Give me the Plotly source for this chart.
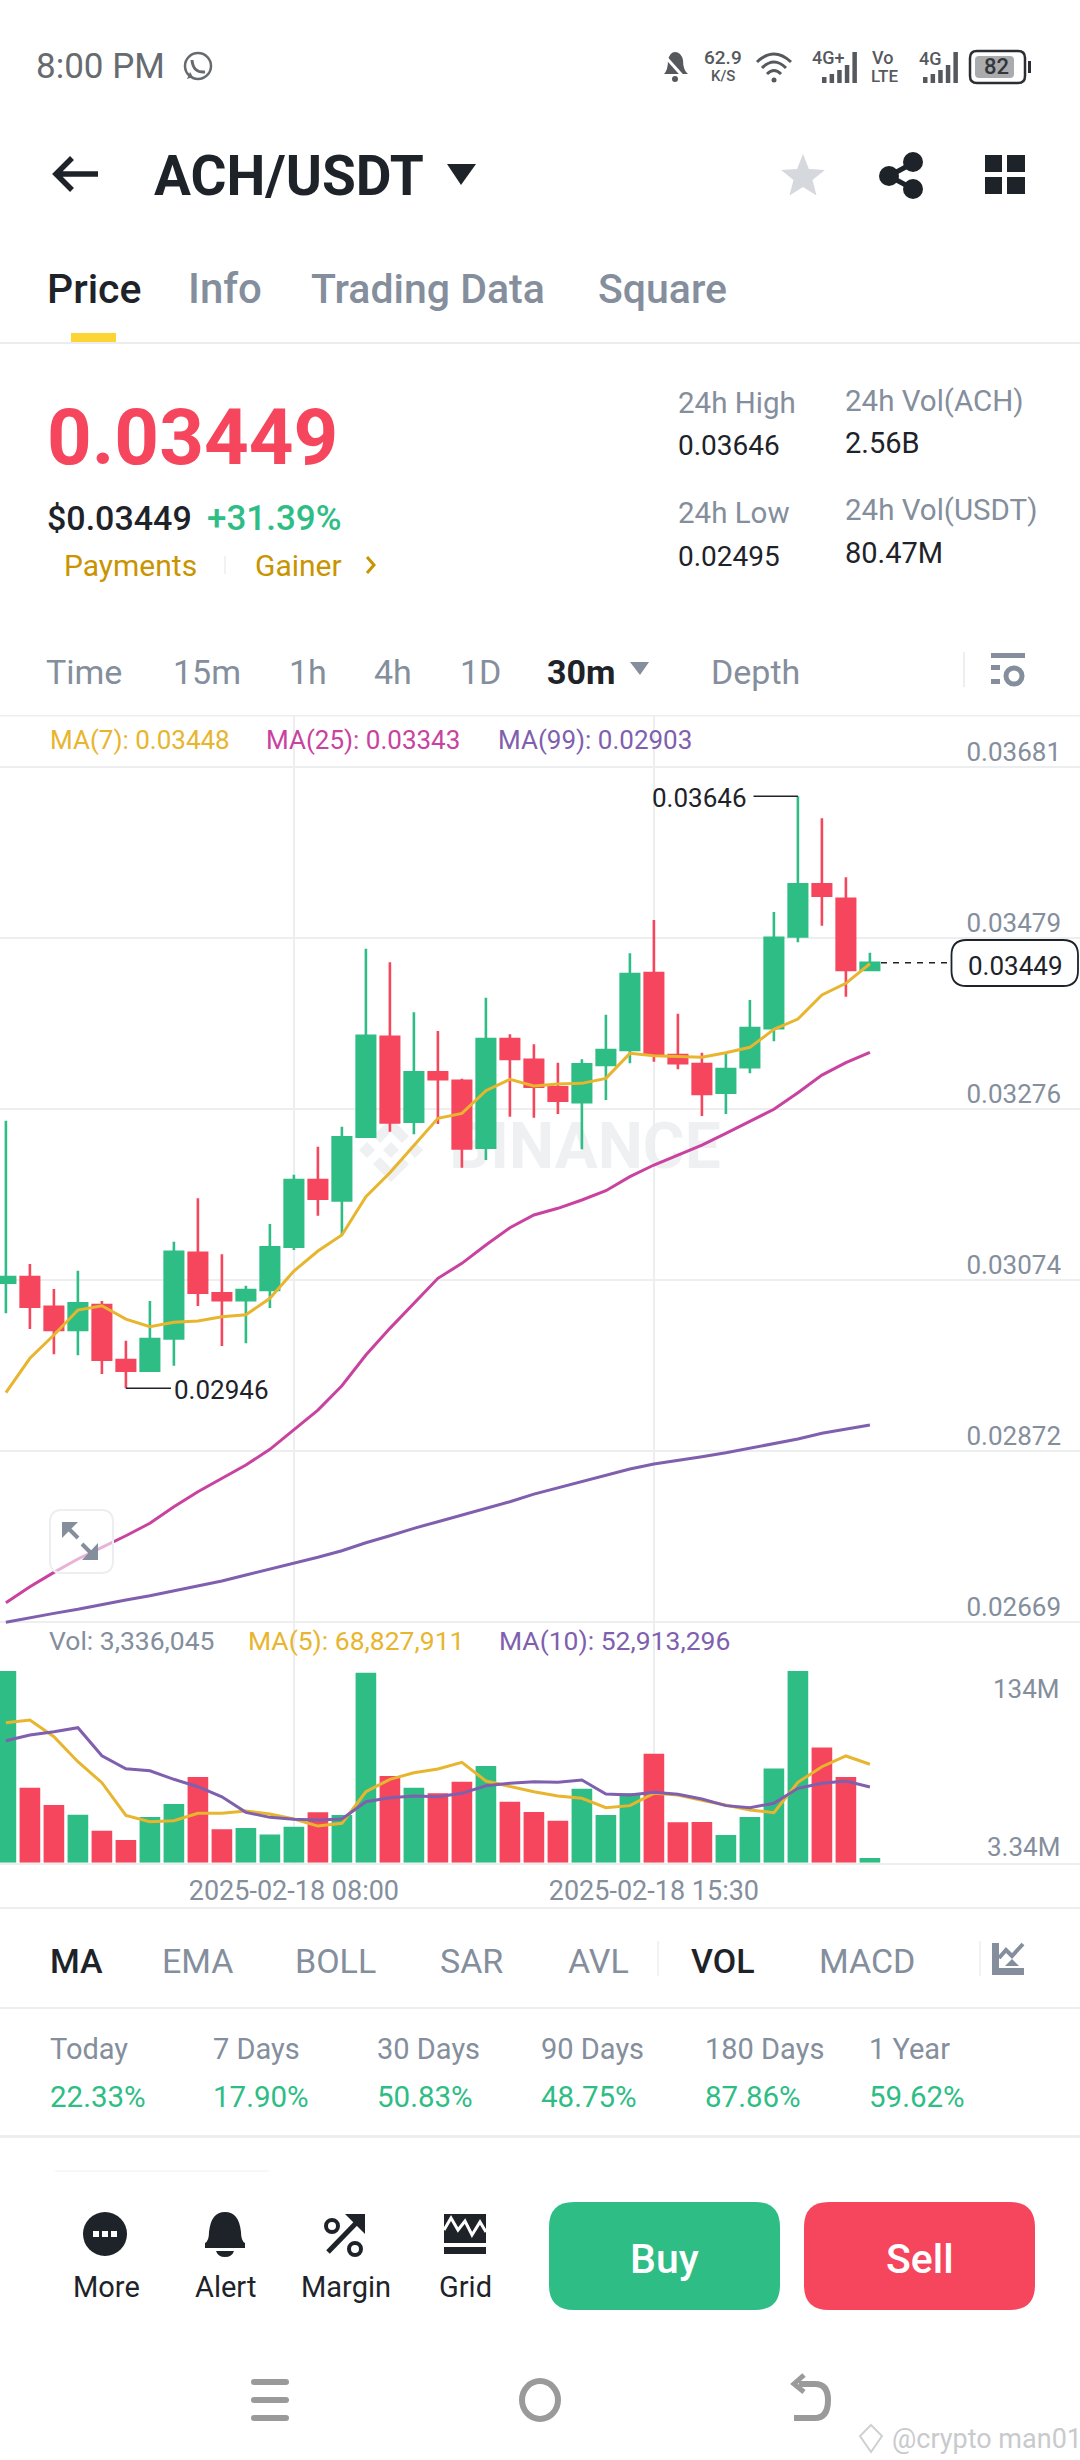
import math, re
import plotly.graph_objects as go

W, H = 1080, 2460

# ---------- chart data ----------
candle_index = list(range(37))
open_px = [0.030707,0.030774,0.030423,0.030147,0.030443,0.029792,0.029666,0.030049,0.031062,0.030581,0.030499,0.030620,0.031133,0.031922,0.031681,0.032434,0.033616,0.032611,0.033195,0.033096,0.032304,0.033589,0.033344,0.033018,0.032841,0.033282,0.033459,0.034370,0.033400,0.033294,0.032954,0.033255,0.033716,0.034804,0.035419,0.035249,0.034405]
close_px = [0.030774,0.030423,0.030147,0.030463,0.029796,0.029666,0.030041,0.031073,0.030588,0.030499,0.030620,0.031125,0.031922,0.031700,0.032427,0.033628,0.032604,0.033195,0.033113,0.032296,0.033589,0.033353,0.033025,0.032860,0.033290,0.033459,0.034358,0.033408,0.033302,0.032939,0.033234,0.033719,0.034787,0.035419,0.035284,0.034405,0.03449]
high_px = [0.032623,0.030928,0.030632,0.030849,0.030490,0.030021,0.030490,0.031192,0.031705,0.031043,0.030671,0.031401,0.031984,0.032315,0.032552,0.034657,0.034496,0.033905,0.033684,0.033120,0.034078,0.033645,0.033527,0.033309,0.033349,0.033877,0.034603,0.034997,0.033889,0.033427,0.033427,0.034051,0.035091,0.03646,0.036200,0.035502,0.034610]
low_px = [0.030345,0.030159,0.029860,0.029848,0.029627,0.02946,0.029662,0.029725,0.030431,0.029958,0.029990,0.030408,0.031094,0.031499,0.031279,0.032427,0.032493,0.032462,0.032584,0.032067,0.032158,0.032670,0.032658,0.032702,0.032285,0.032868,0.033302,0.033321,0.033231,0.032678,0.032702,0.033184,0.033562,0.034733,0.034929,0.034090,0.034405]
ma7 = [0.029406,0.029813,0.030088,0.030384,0.030435,0.030277,0.030186,0.030238,0.030254,0.030305,0.030328,0.030522,0.030845,0.031082,0.031271,0.031724,0.032008,0.032335,0.032651,0.03271,0.032978,0.033113,0.033033,0.033057,0.033065,0.033124,0.03342,0.033392,0.033385,0.033373,0.033427,0.033491,0.033704,0.033826,0.03411,0.034248,0.03448]
ma25 = [0.026922,0.027111,0.027281,0.027439,0.027577,0.027714,0.027861,0.028057,0.028235,0.028393,0.028551,0.028736,0.028965,0.029201,0.029489,0.029852,0.030167,0.030463,0.030759,0.030936,0.031153,0.031357,0.031508,0.031587,0.031685,0.031795,0.031961,0.032099,0.032217,0.032335,0.032474,0.032611,0.032758,0.032954,0.033163,0.033309,0.03343]
ma99 = [0.02669,0.026745,0.026796,0.026844,0.026903,0.026954,0.027005,0.027064,0.027123,0.027178,0.02725,0.027317,0.027388,0.027459,0.027537,0.027631,0.027714,0.027802,0.02788,0.027959,0.028038,0.028116,0.028207,0.028282,0.028353,0.028432,0.028503,0.028562,0.02861,0.028649,0.028696,0.028748,0.028799,0.028858,0.028926,0.028973,0.029024]
volume = [134,52.4,40.3,33.6,22.4,15.8,31.9,41,59.9,23.3,24.2,19.8,25.2,35.2,33.3,132.8,60.6,52.4,48.5,56.6,67.6,42.6,35.4,29.4,51.7,33.3,48.5,76.2,28.2,28.4,19.3,31.9,65.9,134,80.6,59.9,3.34]
vol_ma5 = [97.9,99.7,88.1,70.6,55.9,33.1,28.7,29.4,34.5,34.5,36.1,34,30.5,25.6,27.5,49.6,58.3,62.9,65.5,70.1,57.1,53.1,49.6,46.6,45,38.5,39.9,48.5,47.3,43.6,40.3,36.8,35,56.2,67.1,74.6,68.83]
vol_ma10 = [85.3,89.3,91.6,94.4,74.8,65.7,64.3,58.3,53.1,46.1,35.2,31.7,30.3,29.8,30.5,42.6,45.4,46.6,46.1,48.5,53.8,55.5,56.6,56.2,57.8,48,47.3,49.2,47.8,44.5,39.9,38.5,41.5,52,55.5,57.1,52.91]
price_ticks = [0.03681,0.03479,0.03276,0.03074,0.02872,0.02669]
date_tick_index = [12,27]
date_tick_labels = ["2025-02-18 08:00","2025-02-18 15:30"]
high_label_index, high_label_value = 33, 0.03646
low_label_index, low_label_value = 5, 0.02946
last_price = 0.03449

period_names = ["Today","7 Days","30 Days","90 Days","180 Days","1 Year"]
period_changes = ["22.33%","17.90%","50.83%","48.75%","87.86%","59.62%"]

# ---------- palette ----------
GREEN, RED = "#2ebd85", "#f6465d"
YEL, PINK, PUR = "#e8b52e", "#c9429f", "#7f5fae"
GRAY, DARK, GRID = "#848e9c", "#1e2329", "#eceef0"
GOLD = "#c99400"
FONT = "Roboto"

ann, shp = [], []
px = lambda x: x / W
py = lambda y: 1 - y / H


def T(x, y, s, size, color=GRAY, anchor="left", weight=400, font=FONT):
    ann.append(dict(x=px(x), y=py(y), xref="paper", yref="paper", text=s, showarrow=False,
                    xanchor=anchor, yanchor="middle", borderpad=0, borderwidth=0,
                    font=dict(size=size, color=color, family=font, weight=weight)))


def R(x0, y0, x1, y1, fill, line=None, lw=0):
    shp.append(dict(type="rect", xref="paper", yref="paper", x0=px(x0), x1=px(x1), y0=py(y0), y1=py(y1),
                    fillcolor=fill, line=dict(color=line or fill, width=lw)))


def C(cx, cy, rx, ry=None, fill=None, line=None, lw=0):
    ry = ry or rx
    shp.append(dict(type="circle", xref="paper", yref="paper", x0=px(cx - rx), x1=px(cx + rx), y0=py(cy - ry), y1=py(cy + ry),
                    fillcolor=fill or "rgba(0,0,0,0)", line=dict(color=line or "rgba(0,0,0,0)", width=lw)))


def P(d, fill=None, line=None, lw=0, layer="above"):
    toks = re.findall(r"[MLQCZ]|-?\d+\.?\d*", d)
    out, isx = [], True
    for t in toks:
        if t in "MLQCZ":
            out.append(t)
        else:
            out.append(str(px(float(t)) if isx else py(float(t))))
            isx = not isx
    shp.append(dict(type="path", xref="paper", yref="paper", path=" ".join(out), layer=layer,
                    fillcolor=fill or "rgba(0,0,0,0)", line=dict(color=line or "rgba(0,0,0,0)", width=lw)))


def RR(x0, y0, x1, y1, r, fill=None, line=None, lw=0):
    P(f"M {x0+r} {y0} L {x1-r} {y0} Q {x1} {y0} {x1} {y0+r} L {x1} {y1-r} Q {x1} {y1} {x1-r} {y1} "
      f"L {x0+r} {y1} Q {x0} {y1} {x0} {y1-r} L {x0} {y0+r} Q {x0} {y0} {x0+r} {y0} Z", fill, line, lw)


# ---------- status bar ----------
T(36, 67, "8:00 PM", 35, "#666b70")
C(198, 66, 13, line="#666b70", lw=2.5)
P("M 187 79 L 190 72 L 193 77 Z", fill="#666b70")
P("M 192 60 Q 193 73 205 72", line="#666b70", lw=3)
P("M 664 74 Q 668 70 668 60 Q 670 52 675 52 Q 681 52 683 60 Q 683 70 688 74 Z", fill="#55595e")
C(675, 79, 3, fill="#55595e")
P("M 662 53 L 688 82", line="#ffffff", lw=3)
T(723, 57, "62.9", 19, "#55595e", "center", 500)
T(723, 76, "K/S", 15, "#55595e", "center", 500)
P("M 757 62 Q 774 46 791 62", line="#55595e", lw=3)
P("M 762 68 Q 774 56 786 68", line="#55595e", lw=3)
P("M 767 74 Q 774 67 781 74", line="#55595e", lw=3)
C(774, 80, 2.5, fill="#55595e")
T(828, 58, "4G+", 18, "#55595e", "center", 500)
for x0, bars in ((822, [6, 9, 13, 18, 31]), (923, [6, 9, 13, 18, 31])):
    for k, b in enumerate(bars):
        R(x0 + k * 7.6, 83 - b, x0 + k * 7.6 + 4.5, 83, "#55595e")
T(883, 58, "Vo", 18, "#55595e", "center", 500)
T(884, 76, "LTE", 17, "#55595e", "center", 500)
T(930, 59, "4G", 18, "#55595e", "center", 500)
RR(970, 51, 1025, 83, 7, fill="#ffffff", line="#2b2f33", lw=2.5)
RR(975, 56, 1014, 78, 4, fill="#a9abad")
R(1028, 61, 1031, 73, "#2b2f33")
T(996, 67, "82", 22, "#33373b", "center", 500)

# ---------- title bar ----------
P("M 98 174 L 58 174 M 72 158 L 56 174 L 72 190", line=DARK, lw=5.5)
T(154, 176, "ACH/USDT", 55, DARK, weight=700)
P("M 447 164 L 476 164 L 461 185 Z", fill=DARK)
star = []
for k in range(10):
    rad = 23 if k % 2 == 0 else 10
    a = -math.pi / 2 + k * math.pi / 5
    star.append(("M" if k == 0 else "L") + f" {803 + rad*math.cos(a):.1f} {177 + rad*math.sin(a):.1f}")
P(" ".join(star) + " Z", fill="#d5d8dc")
P("M 915 162 L 889 176 L 915 190", line=DARK, lw=5)
C(889, 176, 10, fill=DARK); C(913, 162, 10, fill=DARK); C(913, 189, 10, fill=DARK)
R(985, 155, 1002, 172, DARK); R(1007, 155, 1025, 172, DARK)
R(985, 177, 1002, 194, DARK); R(1007, 177, 1025, 194, DARK)

# ---------- tabs ----------
T(47, 289, "Price", 41, DARK, weight=500)
T(188, 289, "Info", 42, GRAY, weight=500)
T(311, 289, "Trading Data", 41, GRAY, weight=500)
T(598, 289, "Square", 41, GRAY, weight=500)
R(71, 333, 116, 342, "#fcd535")
R(0, 342, W, 344, "#eaecef")

# ---------- headline numbers ----------
T(47, 438, "0.03449", 78, RED, weight=700)
T(47, 518, "$0.03449", 34, DARK, weight=500)
T(207, 518, "+31.39%", 35, GREEN, weight=500)
T(64, 565, "Payments", 30, GOLD)
T(255, 565, "Gainer", 30, GOLD)
R(224, 556, 226, 574, "#f1f2f3")
P("M 367 557 L 374 565 L 367 573", line=GOLD, lw=3)
T(678, 403, "24h High", 29.5)
T(678, 446, "0.03646", 28, DARK)
T(845, 401, "24h Vol(ACH)", 29.5)
T(845, 443, "2.56B", 29, DARK)
T(678, 513, "24h Low", 29.5)
T(678, 556, "0.02495", 28, DARK)
T(845, 510, "24h Vol(USDT)", 29.5)
T(845, 553, "80.47M", 29, DARK)

# ---------- interval row ----------
for x, s in ((46, "Time"), (173, "15m"), (289, "1h"), (374, "4h"), (460, "1D"), (711, "Depth")):
    T(x, 672, s, 34)
T(547, 672, "30m", 34, DARK, weight=700)
P("M 630 662 L 649 662 L 640 675 Z", fill=GRAY)
R(963, 652, 965, 687, "#eceef0")
R(991, 653, 1025, 658, GRAY); R(991, 665, 1000, 670, GRAY); R(991, 679, 1000, 684, GRAY)
C(1014, 676, 8, fill="#ffffff", line=GRAY, lw=5)
R(0, 715, W, 716.5, GRID)

# chart legends
T(50, 740, "MA(7): 0.03448", 26, YEL)
T(266, 740, "MA(25): 0.03343", 26, PINK)
T(498, 740, "MA(99): 0.02903", 26, PUR)
T(49, 1640, "Vol: 3,336,045", 26.5, GRAY)
T(248, 1640, "MA(5): 68,827,911", 26.5, YEL)
T(499, 1640, "MA(10): 52,913,296", 26.5, PUR)

# ---------- traces ----------
fig = go.Figure()
fig.add_trace(go.Candlestick(x=candle_index, open=open_px, high=high_px, low=low_px, close=close_px,
                             xaxis="x", yaxis="y", whiskerwidth=0, hoverinfo="skip",
                             increasing=dict(line=dict(color=GREEN, width=2.6), fillcolor=GREEN),
                             decreasing=dict(line=dict(color=RED, width=2.6), fillcolor=RED)))
for vals, col in ((ma7, YEL), (ma25, PINK), (ma99, PUR)):
    fig.add_trace(go.Scatter(x=candle_index, y=vals, mode="lines", xaxis="x", yaxis="y",
                             line=dict(color=col, width=3), hoverinfo="skip"))
vol_colors = [GREEN if c >= o else RED for o, c in zip(open_px, close_px)]
fig.add_trace(go.Bar(x=candle_index, y=[v * 1e6 for v in volume], marker=dict(color=vol_colors, line=dict(width=0)),
                     xaxis="x2", yaxis="y2", hoverinfo="skip"))
for vals, col in ((vol_ma5, YEL), (vol_ma10, PUR)):
    fig.add_trace(go.Scatter(x=candle_index, y=[v * 1e6 for v in vals], mode="lines", xaxis="x2", yaxis="y2",
                             line=dict(color=col, width=3), hoverinfo="skip"))

# price annotations tied to the axes
x_at = lambda p: (p - 5.9) / 24
shp.append(dict(type="line", xref="x", yref="y", x0=high_label_index, x1=x_at(753.5), y0=high_label_value, y1=high_label_value, line=dict(color=DARK, width=1.5)))
shp.append(dict(type="line", xref="x", yref="y", x0=low_label_index, x1=x_at(171), y0=low_label_value, y1=low_label_value, line=dict(color=DARK, width=1.5)))
ann.append(dict(x=x_at(749), y=high_label_value, xref="x", yref="y", text=f"{high_label_value:.5f}", showarrow=False, xanchor="right", yanchor="middle", yshift=-2, font=dict(size=26, color=DARK, family=FONT)))
ann.append(dict(x=x_at(172), y=low_label_value, xref="x", yref="y", text=f"{low_label_value:.5f}", showarrow=False, xanchor="left", yanchor="middle", yshift=-2, font=dict(size=26, color=DARK, family=FONT)))
shp.append(dict(type="line", xref="x", yref="y", x0=x_at(881), x1=x_at(948), y0=last_price, y1=last_price, line=dict(color=DARK, width=1.5, dash="6px,6px")))
RR(951.5, 940, 1078, 986, 15, fill="#ffffff", line=DARK, lw=1.8)
ann.append(dict(x=x_at(1015), y=last_price, xref="x", yref="y", text=f"{last_price:.5f}", showarrow=False, xanchor="center", yanchor="middle", yshift=-3, font=dict(size=26, color=DARK, family=FONT)))
ann.append(dict(x=1, y=134e6, xref="paper", yref="y2", text="134M", showarrow=False, xanchor="right", xshift=-18, yanchor="middle", yshift=-18, font=dict(size=26, color=GRAY, family=FONT)))
ann.append(dict(x=1, y=3.34e6, xref="paper", yref="y2", text="3.34M", showarrow=False, xanchor="right", xshift=-18, yanchor="middle", yshift=11, font=dict(size=26, color=GRAY, family=FONT)))

# watermark below the candles
WM = "#eff0f2"
shp.append(dict(type="rect", xref="paper", yref="paper", layer="below", x0=px(435), x1=px(735), y0=py(1106), y1=py(1176),
                fillcolor="rgba(0,0,0,0)", line=dict(width=0),
                label=dict(text="BINANCE", textposition="middle center", font=dict(size=64, color=WM, family=FONT, weight=700))))
lx, ly = 391, 1150
for dx in (-24, 0, 24):
    P(f"M {lx+dx} {ly-8} L {lx+dx+8} {ly} L {lx+dx} {ly+8} L {lx+dx-8} {ly} Z", fill=WM, layer="below")
P(f"M {lx} {ly-32} L {lx+18} {ly-14} L {lx+11} {ly-7} L {lx} {ly-18} L {lx-11} {ly-7} L {lx-18} {ly-14} Z", fill=WM, layer="below")
P(f"M {lx} {ly+32} L {lx+18} {ly+14} L {lx+11} {ly+7} L {lx} {ly+18} L {lx-11} {ly+7} L {lx-18} {ly+14} Z", fill=WM, layer="below")

# expand button
RR(50, 1510, 113, 1573, 12, fill="rgba(255,255,255,0.6)", line="#eceef0", lw=2)
P("M 62 1522 L 78 1522 L 62 1538 Z", fill=GRAY)
P("M 98 1560 L 82 1560 L 98 1543 Z", fill=GRAY)
P("M 68 1528 L 78 1538 M 82 1544 L 92 1554", line=GRAY, lw=4)

# ---------- indicators ----------
R(0, 1907, W, 1909, "#eceef0")
T(50, 1961, "MA", 34, DARK, weight=500)
for x, s in ((162, "EMA"), (295, "BOLL"), (440, "SAR"), (568, "AVL"), (819, "MACD")):
    T(x, 1961, s, 34)
T(691, 1961, "VOL", 34, DARK, weight=500)
R(657, 1941, 659, 1976, "#f1f2f3")
R(979, 1941, 981, 1976, "#f1f2f3")
P("M 992 1943 L 999 1943 L 999 1968 L 1024 1968 L 1024 1975 L 992 1975 Z", fill=GRAY)
P("M 999 1958 L 1006 1950 L 1012 1956 L 1023 1944", line=GRAY, lw=4)
P("M 1005 1966 L 1012 1959 L 1019 1966 Z", fill=GRAY)
R(0, 2007, W, 2009, "#eceef0")
for x, name, chg in zip((50, 213, 377, 541, 705, 869), period_names, period_changes):
    T(x, 2049, name, 29, GRAY)
    T(x, 2097, chg, 29.5, GREEN)
R(0, 2135, W, 2138, "#eceef0")
R(55, 2170, 269, 2172, "#f7f7f8")

# ---------- bottom actions ----------
C(105, 2234, 22, fill=DARK)
for dx in (-9, 0, 9):
    R(105 + dx - 3, 2231, 105 + dx + 3, 2237, "#ffffff")
P("M 205 2248 L 205 2243 Q 209 2241 209 2232 Q 211 2212 225 2212 Q 239 2212 241 2232 Q 241 2241 245 2243 L 245 2248 Z", fill=DARK)
P("M 216 2251 L 234 2251 Q 232 2257 225 2257 Q 218 2257 216 2251 Z", fill=DARK)
P("M 328 2252 L 361 2218", line=DARK, lw=5)
P("M 345 2214 L 365 2214 L 365 2234 Z", fill=DARK)
C(332, 2226, 6, fill="#ffffff", line=DARK, lw=4)
C(355, 2249, 6, fill="#ffffff", line=DARK, lw=4)
P("M 444 2214 L 486 2214 L 486 2243 L 444 2243 Z", fill=DARK)
P("M 444 2230 L 451 2218 L 458 2230 L 465 2221 L 472 2235 L 480 2222 L 486 2232", line="#ffffff", lw=3)
R(444, 2247, 486, 2254, DARK)
for x, s in ((106, "More"), (225, "Alert"), (346, "Margin"), (465, "Grid")):
    T(x, 2287, s, 29, DARK, "center")
RR(549, 2202, 780, 2310, 25, fill=GREEN)
RR(804, 2202, 1035, 2310, 25, fill=RED)
T(664, 2259, "Buy", 41, "#ffffff", "center", 500)
T(920, 2259, "Sell", 41, "#ffffff", "center", 500)

# ---------- nav bar ----------
for y in (2382, 2400, 2418):
    RR(251, y - 3, 289, y + 3, 3, fill="#9a9a9a")
C(540, 2400, 18, 19, line="#9a9a9a", lw=6)
P("M 794 2418 L 815 2418 Q 828 2418 828 2400 Q 828 2384 815 2384 L 799 2384", line="#9a9a9a", lw=6)
P("M 804 2375 L 794 2384 L 804 2392", line="#9a9a9a", lw=5)
P("M 871 2425 L 882 2436 L 871 2452 L 860 2436 Z", line="#cfd0d2", lw=2)
T(892, 2439, "@crypto man01", 27, "#c9cacc")

# ---------- layout ----------
common_x = dict(range=[-0.2458, 44.754], tickmode="array", tickvals=date_tick_index, showgrid=True,
                gridcolor=GRID, gridwidth=1.5, zeroline=False, rangeslider=dict(visible=False), fixedrange=True)
fig.update_layout(
    width=W, height=H, margin=dict(l=0, r=0, t=0, b=0), autosize=False,
    paper_bgcolor="#ffffff", plot_bgcolor="rgba(0,0,0,0)", showlegend=False,
    bargap=0.14, boxgap=0.23, boxgroupgap=0, hovermode=False,
    xaxis=dict(**common_x, anchor="y", ticktext=["", ""], showticklabels=False),
    xaxis2=dict(**common_x, anchor="y2", matches="x", ticktext=date_tick_labels, showticklabels=True,
                ticklen=0, tickfont=dict(size=27, color=GRAY, family=FONT), showline=True, linecolor=GRID, linewidth=1.5,
                ticklabelstandoff=3),
    # the price pane runs 17.7 px past its lowest gridline so that gridline's inside label is kept
    yaxis=dict(domain=[py(1640), py(716)], range=[0.026481, 0.03741], side="right", tickmode="array",
               tickvals=price_ticks, ticktext=[f"{v:.5f}" for v in price_ticks], ticklabelposition="inside",
               ticklabelshift=-15, ticklabelstandoff=16, ticklen=0, tickfont=dict(size=26, color=GRAY, family=FONT),
               gridcolor=GRID, gridwidth=1.5, zeroline=False, showline=False, fixedrange=True),
    yaxis2=dict(domain=[py(1862.7), py(1622.3)], range=[0, 168.05e6], showgrid=False, zeroline=False,
                showticklabels=False, ticklen=0, fixedrange=True),
    annotations=ann, shapes=shp,
)

fig.write_html("out.html", config=dict(displayModeBar=False),
               post_script="document.body.style.margin='0';document.documentElement.style.background='#fff';")
